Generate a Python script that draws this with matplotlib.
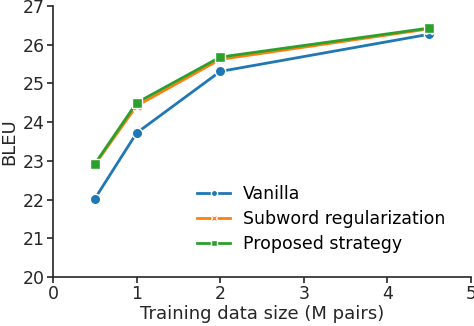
import matplotlib
matplotlib.use("Agg")
import matplotlib.pyplot as plt

sizes = [0.5, 1, 2, 4.5]
vanilla = [22.02, 23.72, 25.31, 26.27]
subword = [22.9, 24.42, 25.62, 26.41]
proposed = [22.92, 24.5, 25.68, 26.43]
labels = ["Vanilla", "Subword regularization", "Proposed strategy"]

fig = plt.figure(figsize=(4.74, 3.26), dpi=100)
ax = fig.add_axes([53 / 474, 1 - 277 / 326, (471 - 53) / 474, (277 - 6) / 326])

ax.plot(sizes, vanilla, color="#1f77b4", marker="o", markersize=7.5, markeredgecolor="white",
        markeredgewidth=1, lw=2, label=labels[0])
ax.plot(sizes, subword, color="#ff7f0e", marker="X", markersize=7.5, markeredgecolor="white",
        markeredgewidth=1, lw=2, label=labels[1])
ax.plot(sizes, proposed, color="#2ca02c", marker="s", markersize=7.5, markeredgecolor="white",
        markeredgewidth=1, lw=2, label=labels[2])

ax.set_xlim(0, 5)
ax.set_ylim(20, 27)
ax.set_xticks(range(0, 6))
ax.set_yticks(range(20, 28))
ax.tick_params(labelsize=12.5, colors="#262626", width=1.2, length=4, pad=2)
ax.spines["top"].set_visible(False)
ax.spines["right"].set_visible(False)
for s in ("left", "bottom"):
    ax.spines[s].set_linewidth(1.2)
    ax.spines[s].set_color("#262626")

ax.set_xlabel("Training data size (M pairs)", fontsize=13, color="#262626", labelpad=1)
ax.set_ylabel("BLEU", fontsize=13, color="#262626", labelpad=3)

ax.legend(loc="lower right", bbox_to_anchor=(0.975, 0.03), frameon=False, fontsize=12.5,
          handlelength=1.9, handletextpad=0.7, labelspacing=0.4, markerscale=0.6)

fig.savefig("out.png", dpi=100)
